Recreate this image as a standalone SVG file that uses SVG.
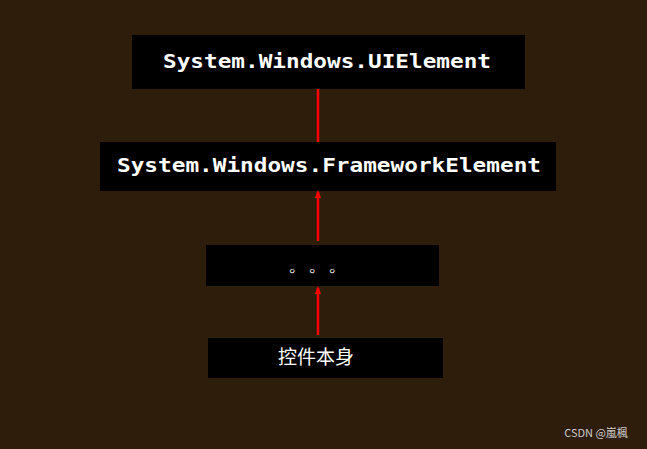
<svg xmlns="http://www.w3.org/2000/svg" width="647" height="449" viewBox="0 0 647 449">
<style>
.b{fill:#000}
.t{fill:#fff;font-family:"DejaVu Sans Mono",monospace;font-weight:bold;font-size:20px;text-anchor:middle}
.c{stroke:#f00;stroke-width:2.5;fill:none}
</style>
<defs><marker id="a" markerWidth="8" markerHeight="6" refX="6" refY="3" orient="auto" markerUnits="userSpaceOnUse"><path d="M0,0L8,3L0,6z" fill="#f00"/></marker></defs>
<rect width="647" height="449" fill="#2e1d0b"/>
<g id="n1"><rect class="b" x="132" y="35" width="393" height="54"/><text class="t" x="327" y="68" textLength="328" lengthAdjust="spacingAndGlyphs">System.Windows.UIElement</text></g>
<g id="n2"><rect class="b" x="100" y="142" width="456" height="49"/><text class="t" x="329" y="172" textLength="424" lengthAdjust="spacingAndGlyphs">System.Windows.FrameworkElement</text></g>
<g id="n3"><rect class="b" x="206" y="245" width="233" height="41"/><text class="t" x="318" y="271" style="font-weight:normal">。。。</text></g>
<g id="n4"><rect class="b" x="208" y="338" width="235" height="40"/><text class="t" x="316" y="364" style="font-family:'Noto Sans CJK SC',sans-serif;font-weight:normal;font-size:19px">控件本身</text></g>
<g id="connectors">
<line class="c" x1="318" y1="89" x2="318" y2="142"/>
<line class="c" x1="318" y1="241" x2="318" y2="192" marker-end="url(#a)"/>
<line class="c" x1="318" y1="335" x2="318" y2="288" marker-end="url(#a)"/>
</g>
<text x="596" y="437" fill="#ccc" font-family="'Noto Sans CJK SC',sans-serif" font-size="11" text-anchor="middle">CSDN @嵐楓</text>
</svg>
